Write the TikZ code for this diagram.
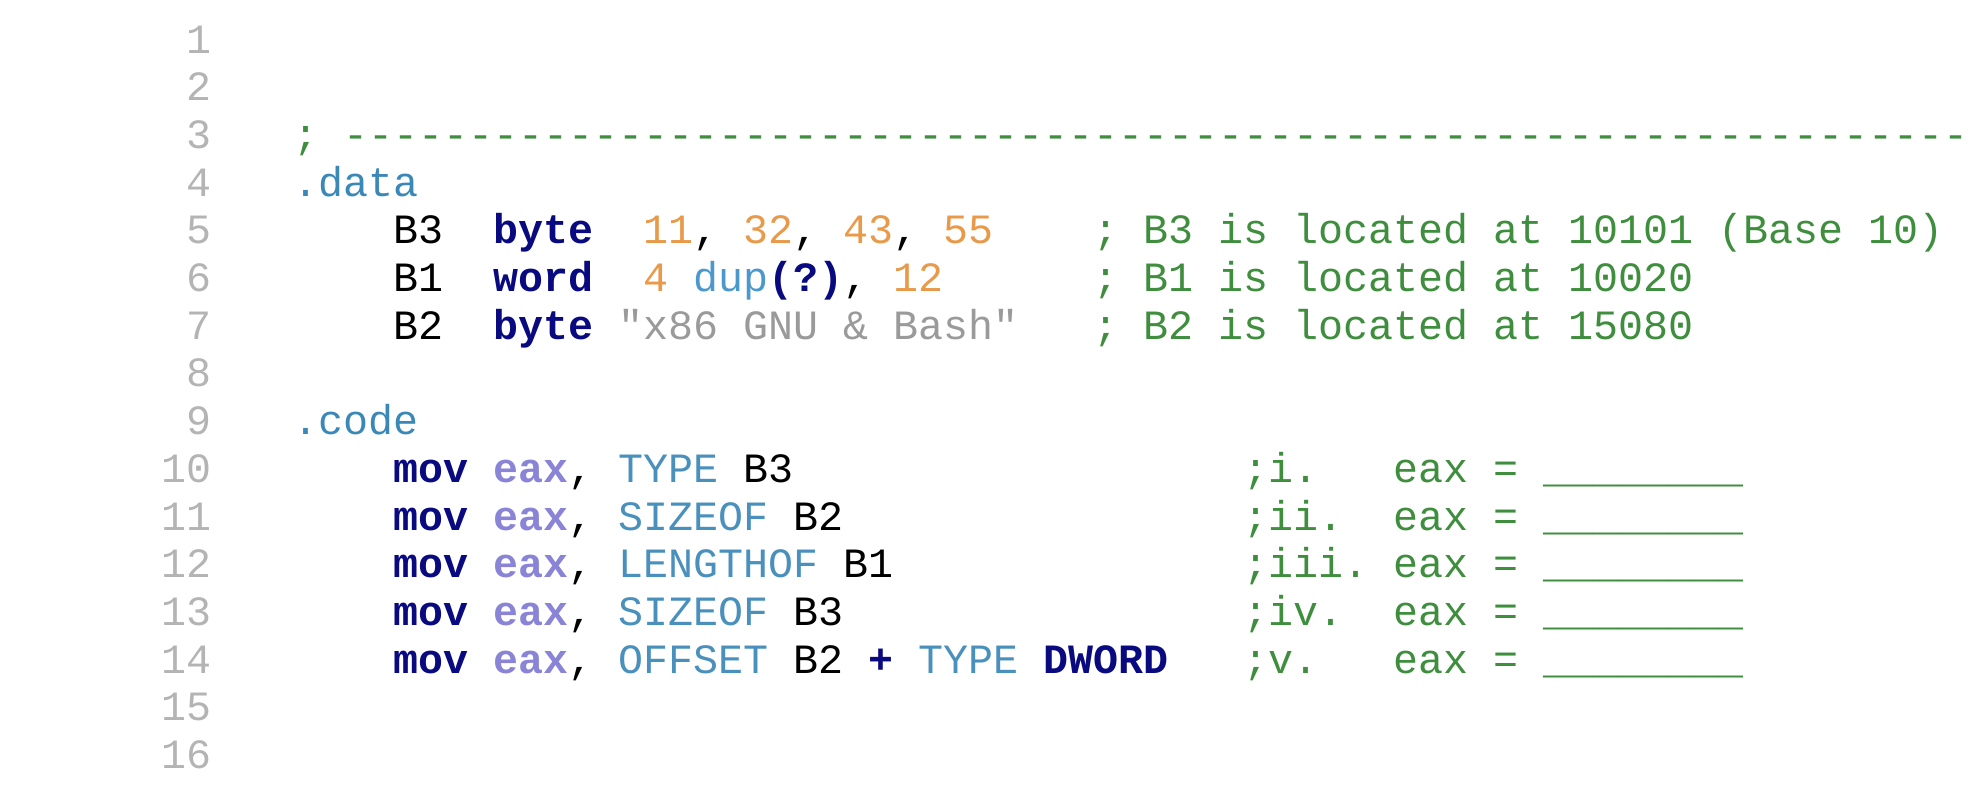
\documentclass[tikz,border=0pt]{standalone}
\usepackage{fontspec}
\setmonofont{Liberation Mono}
\definecolor{lnum}{HTML}{B4B4B4}
\definecolor{cmt}{HTML}{3E8E3E}
\definecolor{dir}{HTML}{3A88B8}
\definecolor{kw}{HTML}{0A0A80}
\definecolor{num}{HTML}{E89A4A}
\definecolor{fn}{HTML}{4A98CC}
\definecolor{str}{HTML}{9A9A9A}
\definecolor{reg}{HTML}{8A84D6}
\definecolor{op}{HTML}{4A90BC}
\newcount\tn
\newcommand\cl[4]{\global\advance\tn1\relax
  \node[cdBase,#3,name=t\the\tn] at ({293+25*#2},{-53-47.7*(#1-1)}) {#4};}
\newcommand\lnumber[1]{\node[cdLn,name=ln#1] at (212,{-53-47.7*(#1-1)}) {#1};}
\tikzset{
  cdBase/.style={anchor=base west,inner sep=0pt,outer sep=0pt,
    font=\ttfamily\fontsize{41.67}{50}\selectfont},
  cdLn/.style={cdBase,anchor=base east,text=lnum},
  cdPlain/.style={text=black},
  cdCm/.style={text=cmt},
  cdDir/.style={text=dir},
  cdKw/.style={text=kw,font=\ttfamily\bfseries\fontsize{41.67}{50}\selectfont},
  cdNum/.style={text=num},
  cdFn/.style={text=fn},
  cdStr/.style={text=str},
  cdReg/.style={text=reg,font=\ttfamily\bfseries\fontsize{41.67}{50}\selectfont},
  cdOp/.style={text=op}
}
\begin{document}
\begin{tikzpicture}[x=1pt,y=1pt]
\useasboundingbox (0,0) rectangle (1974,-788);
\foreach \i in {1,...,16} {\lnumber{\i}}
\cl{3}{0}{cdCm}{; -----------------------------------------------------------------}
\cl{4}{0}{cdDir}{.data}
\cl{5}{4}{cdPlain}{B3}
\cl{5}{8}{cdKw}{byte}
\cl{5}{14}{cdNum}{11}\cl{5}{16}{cdPlain}{,}
\cl{5}{18}{cdNum}{32}\cl{5}{20}{cdPlain}{,}
\cl{5}{22}{cdNum}{43}\cl{5}{24}{cdPlain}{,}
\cl{5}{26}{cdNum}{55}
\cl{5}{32}{cdCm}{; B3 is located at 10101 (Base 10)}
\cl{6}{4}{cdPlain}{B1}
\cl{6}{8}{cdKw}{word}
\cl{6}{14}{cdNum}{4}
\cl{6}{16}{cdFn}{dup}
\cl{6}{19}{cdKw}{(?)}
\cl{6}{22}{cdPlain}{,}
\cl{6}{24}{cdNum}{12}
\cl{6}{32}{cdCm}{; B1 is located at 10020}
\cl{7}{4}{cdPlain}{B2}
\cl{7}{8}{cdKw}{byte}
\cl{7}{13}{cdStr}{"x86 GNU \& Bash"}
\cl{7}{32}{cdCm}{; B2 is located at 15080}
\cl{9}{0}{cdDir}{.code}
\foreach \r in {10,...,14} {
  \cl{\r}{4}{cdKw}{mov}
  \cl{\r}{8}{cdReg}{eax}
  \cl{\r}{11}{cdPlain}{,}
  \cl{\r}{50}{cdCm}{\_\_\_\_\_\_\_\_}
}
\cl{10}{13}{cdOp}{TYPE}\cl{10}{18}{cdPlain}{B3}
\cl{10}{38}{cdCm}{;i.}\cl{10}{44}{cdCm}{eax =}
\cl{11}{13}{cdOp}{SIZEOF}\cl{11}{20}{cdPlain}{B2}
\cl{11}{38}{cdCm}{;ii.}\cl{11}{44}{cdCm}{eax =}
\cl{12}{13}{cdOp}{LENGTHOF}\cl{12}{22}{cdPlain}{B1}
\cl{12}{38}{cdCm}{;iii.}\cl{12}{44}{cdCm}{eax =}
\cl{13}{13}{cdOp}{SIZEOF}\cl{13}{20}{cdPlain}{B3}
\cl{13}{38}{cdCm}{;iv.}\cl{13}{44}{cdCm}{eax =}
\cl{14}{13}{cdOp}{OFFSET}\cl{14}{20}{cdPlain}{B2}
\cl{14}{23}{cdKw}{+}\cl{14}{25}{cdOp}{TYPE}\cl{14}{30}{cdKw}{DWORD}
\cl{14}{38}{cdCm}{;v.}\cl{14}{44}{cdCm}{eax =}
\end{tikzpicture}
\end{document}
